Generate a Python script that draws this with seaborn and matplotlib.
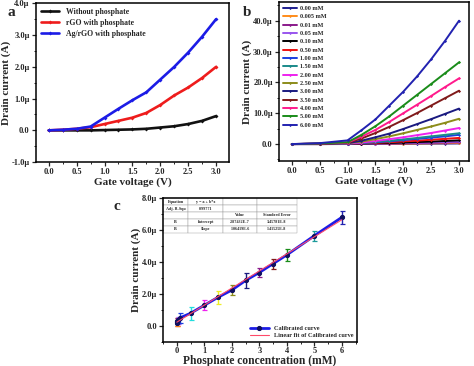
import numpy as np
import pandas as pd
import matplotlib
matplotlib.use("Agg")
import matplotlib.pyplot as plt
from matplotlib.ticker import FuncFormatter, MultipleLocator
import seaborn as sns

# ---- data: panel a (gate voltage sweep, current in uA) ----
vg_a = [0.0, 0.25, 0.5, 0.75, 1.0, 1.25, 1.5, 1.75, 2.0, 2.25, 2.5, 2.75, 3.0]
without_p = [0.0, 0.0, 0.0, 0.0, 0.01, 0.02, 0.03, 0.05, 0.09, 0.13, 0.2, 0.3, 0.45]
rgo_p = [0.0, 0.02, 0.05, 0.1, 0.2, 0.3, 0.4, 0.55, 0.8, 1.1, 1.35, 1.65, 2.0]
agrgo_p = [0.0, 0.02, 0.05, 0.12, 0.4, 0.68, 0.95, 1.2, 1.6, 2.0, 2.45, 2.95, 3.5]
labels_a = ["Without phosphate", "rGO with phosphate", "Ag/rGO with phosphate"]
colors_a = ["#111111", "#ee1c1c", "#1c1ce6"]

# ---- data: panel b (one curve per concentration, uA) ----
vg_b = [0.0, 0.5, 1.0, 1.25, 1.5, 1.75, 2.0, 2.25, 2.5, 2.75, 3.0]
conc_labels = ["0.00 mM", "0.005 mM", "0.01 mM", "0.05 mM", "0.10 mM", "0.50 mM",
               "1.00 mM", "1.50 mM", "2.00 mM", "2.50 mM", "3.00 mM", "3.50 mM",
               "4.00 mM", "5.00 mM", "6.00 mM"]
conc_colors = ["#1f1f8f", "#ff8c1a", "#8b1a8b", "#9955ee", "#000000", "#ee1111",
               "#1a3fe0", "#1a8a8a", "#ee22ee", "#8c8c1a", "#1a1a80", "#801a1a",
               "#ff1a8c", "#1a8c1a", "#2222b0"]
i_000 = [0, 0, 0.01, 0.02, 0.04, 0.06, 0.08, 0.1, 0.13, 0.16, 0.2]
i_0005 = [0, 0, 0.02, 0.05, 0.07, 0.1, 0.14, 0.19, 0.24, 0.3, 0.35]
i_001 = [0, 0, 0.03, 0.07, 0.1, 0.15, 0.22, 0.3, 0.38, 0.47, 0.55]
i_005 = [0, 0, 0.05, 0.1, 0.15, 0.25, 0.35, 0.45, 0.55, 0.7, 0.85]
i_010 = [0, 0, 0.05, 0.15, 0.25, 0.35, 0.5, 0.65, 0.8, 1.0, 1.2]
i_050 = [0, 0.05, 0.1, 0.25, 0.4, 0.6, 0.85, 1.1, 1.4, 1.7, 2.0]
i_100 = [0, 0.05, 0.15, 0.35, 0.6, 0.9, 1.3, 1.7, 2.1, 2.5, 3.0]
i_150 = [0, 0.05, 0.2, 0.4, 0.7, 1.1, 1.5, 2.0, 2.5, 3.0, 3.5]
i_200 = [0, 0.1, 0.2, 0.5, 1.0, 1.6, 2.2, 2.9, 3.6, 4.4, 5.2]
i_250 = [0, 0.1, 0.3, 0.8, 1.6, 2.5, 3.5, 4.6, 5.7, 6.9, 8.2]
i_300 = [0, 0.1, 0.3, 1.1, 2.2, 3.4, 4.9, 6.5, 8.1, 9.8, 11.5]
i_350 = [0, 0.1, 0.4, 1.8, 3.6, 5.6, 7.8, 10.1, 12.5, 14.9, 17.3]
i_400 = [0, 0.2, 0.5, 2.4, 4.6, 7.2, 10.0, 12.8, 15.6, 18.5, 21.3]
i_500 = [0, 0.2, 0.6, 3.0, 5.8, 9.0, 12.5, 16.0, 19.5, 23.0, 26.5]
i_600 = [0, 0.3, 1.2, 4.5, 8.0, 12.5, 17.0, 22.0, 27.5, 33.5, 40.0]
curves_b = [i_000, i_0005, i_001, i_005, i_010, i_050, i_100, i_150, i_200,
            i_250, i_300, i_350, i_400, i_500, i_600]

# ---- data: panel c (calibration, uA) ----
conc = [0, 0.005, 0.01, 0.05, 0.1, 0.5, 1, 1.5, 2, 2.5, 3, 3.5, 4, 5, 6]
cal_current = [0.2, 0.25, 0.3, 0.35, 0.5, 0.8, 1.3, 1.8, 2.25, 2.85, 3.35, 3.9, 4.45, 5.65, 6.8]
cal_err = [0.2, 0.25, 0.2, 0.2, 0.3, 0.4, 0.3, 0.4, 0.3, 0.45, 0.3, 0.3, 0.4, 0.3, 0.4]
err_colors = ["#ee1111", "#ff8c1a", "#8b1a8b", "#9955ee", "#1a3fe0", "#22dddd",
              "#ee22ee", "#eeee22", "#8c8c1a", "#1a1a80", "#8b1a8b", "#801a1a",
              "#1a8c1a", "#1a9a9a", "#2222b0"]
fit_table = [["Equation", "y = a + b*x", "", ""],
             ["Adj. R-Squ", "0.99771", "", ""],
             ["", "", "Value", "Standard Error"],
             ["B", "Intercept", "2.87432E-7", "3.45781E-8"],
             ["B", "Slope", "1.06419E-6", "1.41525E-8"]]

sns.set_style("ticks")
plt.rcParams['font.family'] = ['Liberation Serif', 'DejaVu Serif']
plt.rcParams['font.weight'] = 'bold'
plt.rcParams['axes.labelweight'] = 'bold'
plt.rcParams['axes.linewidth'] = 1.1

def micro(v, pos):
    if abs(v) < 1e-12:
        return "0.0"
    return f"{v * 1e6:.1f}\u03bc"

def style_axes(ax):
    ax.tick_params(which='major', length=3, width=0.9, labelsize=6, pad=1.5)
    ax.tick_params(which='minor', length=1.6, width=0.7)
    for t in ax.get_xticklabels() + ax.get_yticklabels():
        t.set_fontweight('bold')
    for s in ax.spines.values():
        s.set_visible(True)
        s.set_color('black')

fig = plt.figure(figsize=(4.74, 3.66), dpi=100)

# panel a
ax1 = fig.add_axes([0.0759, 0.557, 0.407, 0.434])
vg_a = np.array(vg_a)
for y, lab, col in zip([without_p, rgo_p, agrgo_p], labels_a, colors_a):
    sns.lineplot(x=vg_a, y=np.array(y) * 1e-6, ax=ax1, color=col, label=lab,
                 linewidth=1.9, marker='D', markersize=2, markeredgewidth=0)
ax1.set_xlim(-0.23, 3.23)
ax1.set_ylim(-1e-6, 4e-6)
ax1.xaxis.set_major_locator(MultipleLocator(0.5))
ax1.xaxis.set_minor_locator(MultipleLocator(0.25))
ax1.yaxis.set_major_locator(MultipleLocator(1e-6))
ax1.yaxis.set_minor_locator(MultipleLocator(0.5e-6))
ax1.yaxis.set_major_formatter(FuncFormatter(micro))
ax1.set_xlabel("Gate voltage (V)", fontsize=8, labelpad=0.5)
ax1.set_ylabel("Drain current (A)", fontsize=8, labelpad=0.5)
ax1.legend(loc='upper left', frameon=False, prop={'size': 5.6, 'weight': 'bold'},
           handlelength=2.4, labelspacing=0.4, borderaxespad=0.3, borderpad=0.3)
style_axes(ax1)

# panel b
ax2 = fig.add_axes([0.5886, 0.560, 0.401, 0.434])
vg_b = np.array(vg_b)
for y, lab, col in zip(curves_b, conc_labels, conc_colors):
    sns.lineplot(x=vg_b, y=np.array(y) * 1e-6, ax=ax2, color=col, label=lab,
                 linewidth=1.4, marker='D', markersize=1.6, markeredgewidth=0)
ax2.set_xlim(-0.23, 3.18)
ax2.set_ylim(-5.5e-6, 46e-6)
ax2.xaxis.set_major_locator(MultipleLocator(0.5))
ax2.xaxis.set_minor_locator(MultipleLocator(0.25))
ax2.yaxis.set_major_locator(MultipleLocator(10e-6))
ax2.yaxis.set_minor_locator(MultipleLocator(5e-6))
ax2.yaxis.set_major_formatter(FuncFormatter(micro))
ax2.set_xlabel("Gate voltage (V)", fontsize=8, labelpad=0.5)
ax2.set_ylabel("Drain current (A)", fontsize=8, labelpad=0.5)
ax2.legend(loc='upper left', frameon=False, prop={'size': 4.4, 'weight': 'bold'},
           handlelength=2.4, labelspacing=0.5, borderaxespad=0.3, borderpad=0.3,
           handletextpad=0.5)
style_axes(ax2)

# panel c
ax3 = fig.add_axes([0.344, 0.0655, 0.409, 0.393])
conc_a = np.array(conc)
cal_a = np.array(cal_current) * 1e-6
for xv, yv, ev, col in zip(conc_a, cal_a, cal_err, err_colors):
    ax3.errorbar(xv, yv, yerr=ev * 1e-6, color=col, capsize=1.8, elinewidth=1.0,
                 capthick=0.9, zorder=2)
sns.lineplot(x=conc_a, y=cal_a, ax=ax3, color="#1c1ce6", linewidth=2.0,
             marker='o', markersize=3, markerfacecolor="#101060",
             markeredgecolor="#101060", label="Calibrated curve", zorder=3)
sns.regplot(x=conc_a, y=cal_a, ax=ax3, scatter=False, ci=None, color="#ff4a6a",
            line_kws={'linewidth': 0.8, 'zorder': 4}, label="Linear fit of Calibrated curve")
ax3.set_xlim(-0.5, 6.55)
ax3.set_ylim(-1e-6, 8e-6)
ax3.xaxis.set_major_locator(MultipleLocator(1))
ax3.xaxis.set_minor_locator(MultipleLocator(0.5))
ax3.yaxis.set_major_locator(MultipleLocator(2e-6))
ax3.yaxis.set_minor_locator(MultipleLocator(1e-6))
ax3.yaxis.set_major_formatter(FuncFormatter(micro))
ax3.set_xlabel("Phosphate concentration (mM)", fontsize=8.3, labelpad=0)
ax3.set_ylabel("Drain current (A)", fontsize=8, labelpad=0.5)
ax3.legend(loc='lower right', frameon=False, prop={'size': 4.5, 'weight': 'bold'},
           handlelength=3.0, labelspacing=0.3, borderaxespad=0.2)
tab = ax3.table(cellText=fit_table, bbox=[0, 0.76, 0.69, 0.24],
                colWidths=[0.19, 0.26, 0.25, 0.30], cellLoc='center')
tab.auto_set_font_size(False)
tab.set_fontsize(3)
for cell in tab.get_celld().values():
    cell.set_linewidth(0.3)
    cell.set_edgecolor('#999999')
    cell.get_text().set_fontweight('bold')
style_axes(ax3)
ax3.tick_params(axis='x', which='major', pad=0.8)

fig.text(8 / 474, 1 - 12 / 366, "a", fontsize=11, fontweight='bold', va='center')
fig.text(243 / 474, 1 - 12 / 366, "b", fontsize=11, fontweight='bold', va='center')
fig.text(113 / 474, 1 - 207 / 366, "c", fontsize=11, fontweight='bold', va='center')

fig.savefig("out.png", dpi=100)
